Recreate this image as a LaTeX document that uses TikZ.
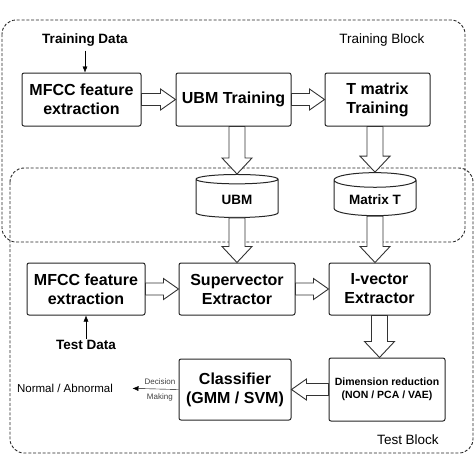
\documentclass[tikz,border=0pt]{standalone}
\usepackage{fontspec}
\setmainfont{Liberation Sans}
\usetikzlibrary{arrows.meta, positioning, shapes.geometric, calc}

\begin{document}
\begin{tikzpicture}[
    x=1pt, y=-1pt,
    node distance=33pt,
    >={Latex[length=6pt,width=5pt]},
    box/.style={rectangle, rounded corners=2pt, draw=black!85, line width=1pt, fill=white, align=center, inner sep=2pt, font=\fontsize{16}{19}\selectfont\bfseries},
    db/.style={cylinder, shape border rotate=90, aspect=0.25, draw=black!85, line width=1pt, fill=white, minimum width=82pt, minimum height=43pt, font=\fontsize{13.5}{16}\selectfont\bfseries},
    lbl/.style={inner sep=1pt, font=\fontsize{13.5}{16}\selectfont\bfseries},
    block/.style={draw=black!85, line width=0.9pt, dash pattern=on 3pt off 1.8pt, rounded corners=14pt},
    fat/.style={draw=black!80, line width=0.9pt, fill=white},
    fatr/.style={to path={let \p1=(\tikztostart), \p2=(\tikztotarget) in
      (\x1,\y1+6pt) -- (\x2-15pt,\y1+6pt) -- (\x2-15pt,\y1+10.5pt) -- (\x2,\y1)
      -- (\x2-15pt,\y1-10.5pt) -- (\x2-15pt,\y1-6pt) -- (\x1,\y1-6pt) -- cycle}},
    fatl/.style={to path={let \p1=(\tikztostart), \p2=(\tikztotarget) in
      (\x1,\y1+6pt) -- (\x2+15pt,\y1+6pt) -- (\x2+15pt,\y1+10.5pt) -- (\x2,\y1)
      -- (\x2+15pt,\y1-10.5pt) -- (\x2+15pt,\y1-6pt) -- (\x1,\y1-6pt) -- cycle}},
    fatd/.style={to path={let \p1=(\tikztostart), \p2=(\tikztotarget) in
      (\x1-8pt,\y1) -- (\x1-8pt,\y2+16pt) -- (\x1-15pt,\y2+16pt) -- (\x1,\y2)
      -- (\x1+15pt,\y2+16pt) -- (\x1+8pt,\y2+16pt) -- (\x1+8pt,\y1) -- cycle}}
  ]
    \useasboundingbox (0,0) rectangle (474,474);

    % the two blocks
    \draw[block] (2,20) rectangle (465,242);
    \draw[block] (10,168) rectangle (473,453);
    \node[font=\fontsize{13.5}{16}\selectfont] (trblock) at (382,40) {Training Block};
    \node[font=\fontsize{13.5}{16}\selectfont] (teblock) at (408,440) {Test Block};

    % training
    \node[lbl] (traindata) at (85,40) {Training Data};
    \node[box, minimum width=119pt, minimum height=53pt] (mfcc) at (81.5,99.5) {MFCC feature\\extraction};
    \node[box, minimum width=115pt, minimum height=53pt, right=34pt of mfcc] (ubmtr) {UBM Training};
    \node[box, minimum width=105pt, minimum height=53pt, right=of ubmtr] (ttr) {T matrix\\Training};
    \node[db] (ubm) at (237,199.5) {UBM};
    \node[db] (tmat) at (375,199.5) {Matrix T};

    % test
    \node[box, minimum width=118pt, minimum height=52pt] (mfcct) at (86,289) {MFCC feature\\extraction};
    \node[box, minimum width=116pt, minimum height=52pt, right=of mfcct] (sv) {Supervector\\Extractor};
    \node[box, minimum width=101pt, minimum height=52pt, right=of sv] (iv) {I-vector\\Extractor};
    \node[lbl] (testdata) at (86,345) {Test Data};
    \node[box, minimum width=112pt, minimum height=61pt, below=43pt of sv, xshift=-2pt] (clf) {Classifier\\(GMM / SVM)};
    \node[box, minimum width=116pt, minimum height=63pt, right=37pt of clf, font=\fontsize{10.5}{13}\selectfont\bfseries] (dim) {Dimension reduction\\(NON / PCA / VAE)};
    \node[font=\fontsize{11.5}{14}\selectfont] (out) at (65,388) {Normal / Abnormal};

    \draw[->, shorten <=3pt] (traindata.south) -- (traindata.south |- mfcc.north);
    \draw[fat] (mfcc.east) to[fatr] (ubmtr.west);
    \draw[fat] (ubmtr.east) to[fatr] (ttr.west);
    \draw[fat] (ubmtr.south -| ubm.north) to[fatd] (ubm.north);
    \draw[fat] (ttr.south -| tmat.north) to[fatd] (tmat.north);
    \draw[fat] (ubm.south) to[fatd] (ubm.south |- sv.north);
    \draw[fat] (tmat.south) to[fatd] (tmat.south |- iv.north);
    \draw[->] (testdata.north) -- (mfcct.south);
    \draw[fat] (mfcct.east) to[fatr] (sv.west);
    \draw[fat] (sv.east) to[fatr] (iv.west);
    \draw[fat] (iv.south) to[fatd] (iv.south |- dim.north);
    \draw[fat] (dim.west) to[fatl] (clf.east);
    \draw[->, shorten >=16pt] (clf.west) -- node[pos=0.3, above=1pt, font=\fontsize{8}{9}\selectfont, text=black!75] {Decision}
      node[pos=0.3, below=1pt, font=\fontsize{8}{9}\selectfont, text=black!75] {Making} (out.east);
  \end{tikzpicture}
\end{document}
